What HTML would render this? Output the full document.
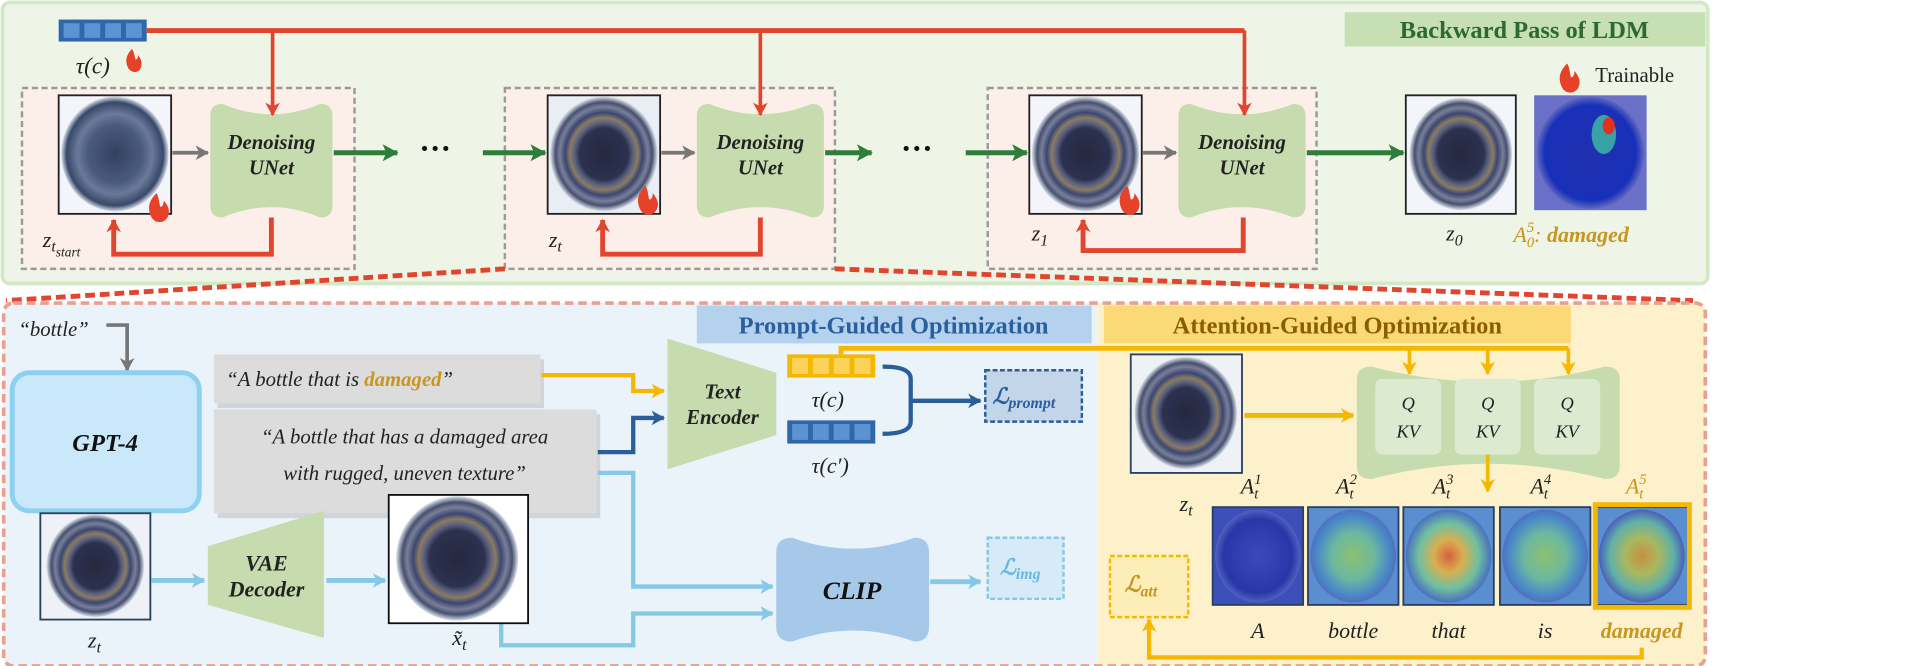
<!DOCTYPE html>
<html><head><meta charset="utf-8"><style>
html,body{margin:0;padding:0;background:#fff;}
svg{display:block;}
text{font-family:"Liberation Serif",serif;}
.bi{font-weight:bold;font-style:italic;}
.it{font-style:italic;}
</style></head><body>
<svg width="1907" height="666" viewBox="0 0 1560 545" preserveAspectRatio="none" xmlns="http://www.w3.org/2000/svg">
<defs>
<radialGradient id="bot" cx="50%" cy="50%" r="50%">
<stop offset="0" stop-color="#25283d"/><stop offset="0.45" stop-color="#2c3150"/>
<stop offset="0.55" stop-color="#5c6280"/><stop offset="0.63" stop-color="#8b7b62"/>
<stop offset="0.72" stop-color="#3a4672"/><stop offset="0.82" stop-color="#7a7f98"/>
<stop offset="0.9" stop-color="#45506f"/><stop offset="1" stop-color="#dfe4ec"/></radialGradient>
<radialGradient id="noisy" cx="50%" cy="50%" r="50%">
<stop offset="0" stop-color="#34405e"/><stop offset="0.5" stop-color="#4a5a7e"/>
<stop offset="0.7" stop-color="#6b7a9a"/><stop offset="0.9" stop-color="#384868"/><stop offset="1" stop-color="#d8dfea"/></radialGradient>
<radialGradient id="h1" cx="50%" cy="50%" r="50%"><stop offset="0" stop-color="#3a4bb8"/><stop offset="0.8" stop-color="#2a36a8"/><stop offset="1" stop-color="#4f62c0"/></radialGradient>
<radialGradient id="h2" cx="50%" cy="50%" r="50%"><stop offset="0" stop-color="#8cc070"/><stop offset="0.5" stop-color="#6cb8a0"/><stop offset="0.85" stop-color="#4a88c8"/><stop offset="1" stop-color="#5070c0"/></radialGradient>
<radialGradient id="h3" cx="50%" cy="50%" r="50%"><stop offset="0" stop-color="#d86040"/><stop offset="0.35" stop-color="#d8b050"/><stop offset="0.7" stop-color="#70c0a0"/><stop offset="1" stop-color="#4a70c0"/></radialGradient>
<radialGradient id="h5" cx="50%" cy="50%" r="50%"><stop offset="0" stop-color="#c89040"/><stop offset="0.4" stop-color="#a8b860"/><stop offset="0.75" stop-color="#60b0a8"/><stop offset="1" stop-color="#4a60b8"/></radialGradient>
<radialGradient id="h0" cx="50%" cy="50%" r="50%"><stop offset="0" stop-color="#2030b0"/><stop offset="0.85" stop-color="#1830b8"/><stop offset="1" stop-color="#6068c0"/></radialGradient>
<marker id="mr" markerWidth="12" markerHeight="12" refX="10" refY="6" orient="auto" markerUnits="userSpaceOnUse"><path d="M0,0 L11,6 L0,12 L3,6Z" fill="#e2452e"/></marker>
<marker id="mg" markerWidth="14" markerHeight="14" refX="12" refY="7" orient="auto" markerUnits="userSpaceOnUse"><path d="M0,0 L13,7 L0,14 L3,7Z" fill="#2e7d3a"/></marker>
<marker id="mgr" markerWidth="12" markerHeight="12" refX="10" refY="6" orient="auto" markerUnits="userSpaceOnUse"><path d="M0,0 L11,6 L0,12 L3,6Z" fill="#777"/></marker>
<marker id="my" markerWidth="12" markerHeight="12" refX="10" refY="6" orient="auto" markerUnits="userSpaceOnUse"><path d="M0,0 L11,6 L0,12 L3,6Z" fill="#f5b800"/></marker>
<marker id="mb" markerWidth="12" markerHeight="12" refX="10" refY="6" orient="auto" markerUnits="userSpaceOnUse"><path d="M0,0 L11,6 L0,12 L3,6Z" fill="#2b5e98"/></marker>
<marker id="ml" markerWidth="12" markerHeight="12" refX="10" refY="6" orient="auto" markerUnits="userSpaceOnUse"><path d="M0,0 L11,6 L0,12 L3,6Z" fill="#85c8e8"/></marker>
</defs>

<!-- TOP PANEL -->
<rect x="2" y="2" width="1395" height="230" rx="6" fill="#eef5e7" stroke="#d3e8c4" stroke-width="3"/>
<rect x="1100" y="10" width="295" height="28" fill="#c6dfb3"/>
<text x="1247" y="31" text-anchor="middle" font-size="20" font-weight="bold" fill="#2d6a2d">Backward Pass of LDM</text>
<path d="M1282,52 c-6,6 -8,12 -4,20 c3,5 10,5 13,0 c3,-6 0,-10 -3,-14 c0,4 -2,6 -3,5 c-1,-4 -1,-8 -3,-11z" fill="#e8412a"/>
<text x="1305" y="67" font-size="17" fill="#222">Trainable</text>

<!-- tau(c) -->
<rect x="48" y="16" width="72" height="18" fill="#2e67aa"/>
<g fill="#5b93d3"><rect x="52" y="19" width="13" height="12"/><rect x="69" y="19" width="13" height="12"/><rect x="86" y="19" width="13" height="12"/><rect x="103" y="19" width="13" height="12"/></g>
<text x="62" y="60" font-size="19" class="it" fill="#222">τ(c)</text>
<path d="M108,40 c-5,5 -6,10 -3,16 c3,4 8,4 10,0 c2,-5 0,-8 -2,-11 c0,3 -2,4 -2,4 c-1,-3 -1,-6 -3,-9z" fill="#e8412a"/>

<!-- dashed boxes -->
<g fill="#fcefe9" stroke="#9a9a9a" stroke-width="2" stroke-dasharray="5,3">
<rect x="18" y="72" width="272" height="148"/><rect x="413" y="72" width="270" height="148"/><rect x="808" y="72" width="269" height="148"/></g>

<!-- images -->
<g stroke="#222" stroke-width="1.5">
<rect x="48" y="78" width="92" height="97" fill="#f3f5fa"/>
<rect x="448" y="78" width="92" height="97" fill="#e8eef3"/>
<rect x="842" y="78" width="92" height="97" fill="#f3f5fa"/>
<rect x="1150" y="78" width="90" height="97" fill="#f3f5fa"/></g>
<ellipse cx="94" cy="126" rx="44" ry="47" fill="url(#noisy)"/>
<ellipse cx="494" cy="126" rx="44" ry="47" fill="url(#bot)"/>
<ellipse cx="888" cy="126" rx="44" ry="47" fill="url(#bot)"/>
<ellipse cx="1195" cy="126" rx="42" ry="46" fill="url(#bot)"/>
<rect x="1255" y="78" width="92" height="94" fill="#6a70c8"/>
<ellipse cx="1301" cy="125" rx="44" ry="46" fill="url(#h0)"/>
<ellipse cx="1312" cy="110" rx="10" ry="16" fill="#40c0a0" opacity="0.8"/>
<ellipse cx="1316" cy="103" rx="5" ry="7" fill="#e03020"/>
<g fill="#e8412a">
<path d="M128,158 c-6,6 -8,12 -4,20 c3,5 10,5 13,0 c3,-6 0,-10 -3,-14 c0,4 -2,6 -3,5 c-1,-4 -1,-8 -3,-11z"/>
<path d="M528,152 c-6,6 -8,12 -4,20 c3,5 10,5 13,0 c3,-6 0,-10 -3,-14 c0,4 -2,6 -3,5 c-1,-4 -1,-8 -3,-11z"/>
<path d="M922,152 c-6,6 -8,12 -4,20 c3,5 10,5 13,0 c3,-6 0,-10 -3,-14 c0,4 -2,6 -3,5 c-1,-4 -1,-8 -3,-11z"/></g>

<!-- UNets -->
<g fill="#c6dcae">
<path d="M172,95 Q172,85 182,85 Q222,102 262,85 Q272,85 272,95 L272,168 Q272,178 262,178 Q222,161 182,178 Q172,178 172,168Z"/>
<path d="M570,95 Q570,85 580,85 Q622,102 664,85 Q674,85 674,95 L674,168 Q674,178 664,178 Q622,161 580,178 Q570,178 570,168Z"/>
<path d="M964,95 Q964,85 974,85 Q1016,102 1058,85 Q1068,85 1068,95 L1068,168 Q1068,178 1058,178 Q1016,161 974,178 Q964,178 964,168Z"/></g>
<g font-size="17" class="bi" fill="#222" text-anchor="middle">
<text x="222" y="122">Denoising</text><text x="222" y="143">UNet</text>
<text x="622" y="122">Denoising</text><text x="622" y="143">UNet</text>
<text x="1016" y="122">Denoising</text><text x="1016" y="143">UNet</text></g>

<!-- red top line -->
<path d="M120,25 H1018" stroke="#e2452e" stroke-width="4" fill="none"/>
<g stroke="#e2452e" stroke-width="3" fill="none" marker-end="url(#mr)">
<path d="M223,25 V94"/><path d="M622,25 V94"/><path d="M1018,25 V94"/></g>

<!-- gray arrows -->
<g stroke="#777" stroke-width="3" marker-end="url(#mgr)">
<path d="M141,125 H170"/><path d="M541,125 H568"/><path d="M935,125 H962"/></g>
<!-- green arrows -->
<g stroke="#2e7d3a" stroke-width="4" marker-end="url(#mg)">
<path d="M273,125 H325"/><path d="M395,125 H446"/><path d="M675,125 H713"/><path d="M790,125 H840"/><path d="M1069,125 H1148"/></g>
<g font-size="26" font-weight="bold" fill="#111"><text x="343" y="130">···</text><text x="737" y="130">···</text></g>
<!-- red loops -->
<g stroke="#e2452e" stroke-width="4" fill="none">
<path d="M222,178 V208 H93 V180" marker-end="url(#mr)"/>
<path d="M622,178 V208 H493 V180" marker-end="url(#mr)"/>
<path d="M1017,178 V205 H886 V180" marker-end="url(#mr)"/></g>
<g font-size="18" class="it" fill="#222">
<text x="35" y="202">z<tspan font-size="13" dy="4">t</tspan><tspan font-size="11" dy="4">start</tspan></text>
<text x="449" y="202">z<tspan font-size="13" dy="4">t</tspan></text>
<text x="844" y="197">z<tspan font-size="13" dy="4">1</tspan></text>
<text x="1183" y="197">z<tspan font-size="13" dy="4">0</tspan></text></g>
<text x="1238" y="198" font-size="18" class="it" fill="#c8961e">A<tspan font-size="12" dy="-8">5</tspan><tspan font-size="12" dx="-6" dy="12">0</tspan><tspan dy="-4">: </tspan><tspan font-weight="bold">damaged</tspan></text>

<!-- red dashed connectors -->
<g stroke="#e2452e" stroke-width="4" stroke-dasharray="8,4"><path d="M413,220 L5,246"/><path d="M683,220 L1385,246"/></g>

<!-- BOTTOM PANEL -->
<path d="M3,254 Q3,248 10,248 H898 V545 H10 Q3,545 3,538Z" fill="#eaf2fa"/>
<path d="M898,248 H1388 Q1395,248 1395,255 V538 Q1395,545 1388,545 H898Z" fill="#fdf1cc"/>
<rect x="3" y="248" width="1392" height="297" rx="8" fill="none" stroke="#eba08f" stroke-width="3" stroke-dasharray="7,4"/>
<rect x="570" y="250" width="323" height="31" fill="#b4d2ee"/>
<text x="731" y="273" text-anchor="middle" font-size="20" font-weight="bold" fill="#2a5f9e">Prompt-Guided  Optimization</text>
<rect x="903" y="250" width="382" height="31" fill="#fcd977"/>
<text x="1094" y="273" text-anchor="middle" font-size="20" font-weight="bold" fill="#8a5e00">Attention-Guided Optimization</text>

<text x="15" y="275" font-size="17" class="it" fill="#222">“bottle”</text>
<path d="M87,266 H104 V303" stroke="#777" stroke-width="3" fill="none" marker-end="url(#mgr)"/>
<rect x="10" y="305" width="153" height="113" rx="14" fill="#c9e8f9" stroke="#8dd0f0" stroke-width="4"/>
<text x="86" y="369" text-anchor="middle" font-size="20" class="bi" fill="#111">GPT-4</text>

<rect x="178" y="294" width="267" height="40" fill="#b8b8b8" opacity="0.5"/>
<rect x="175" y="290" width="267" height="40" fill="#dcdcdc"/>
<text x="185" y="316" font-size="17" class="it" fill="#222">“A bottle that is <tspan font-weight="bold" fill="#c8961e">damaged</tspan>”</text>
<rect x="178" y="339" width="313" height="85" fill="#b8b8b8" opacity="0.5"/>
<rect x="175" y="335" width="313" height="85" fill="#dcdcdc"/>
<text x="331" y="363" text-anchor="middle" font-size="17" class="it" fill="#222">“A bottle that has a damaged area</text>
<text x="331" y="393" text-anchor="middle" font-size="17" class="it" fill="#222">with rugged, uneven texture”</text>

<path d="M443,307 H518 V320 H543" stroke="#f5b800" stroke-width="3.5" fill="none" marker-end="url(#my)"/>
<path d="M489,370 H518 V342 H543" stroke="#2b5e98" stroke-width="3.5" fill="none" marker-end="url(#mb)"/>
<path d="M489,387 H518 V480 H632" stroke="#85c8e8" stroke-width="3.5" fill="none" marker-end="url(#ml)"/>
<path d="M410,510 V528 H518 V502 H632" stroke="#85c8e8" stroke-width="3.5" fill="none" marker-end="url(#ml)"/>

<path d="M546,277 L635,305 L635,356 L546,384Z" fill="#c6dcae"/>
<text x="591" y="326" text-anchor="middle" font-size="17" class="bi" fill="#222">Text</text>
<text x="591" y="347" text-anchor="middle" font-size="17" class="bi" fill="#222">Encoder</text>

<rect x="644" y="290" width="72" height="19" fill="#f5b800"/>
<g fill="#fbd35a"><rect x="648" y="293" width="13" height="13"/><rect x="665" y="293" width="13" height="13"/><rect x="682" y="293" width="13" height="13"/><rect x="699" y="293" width="13" height="13"/></g>
<rect x="644" y="344" width="72" height="19" fill="#2e67aa"/>
<g fill="#5b93d3"><rect x="648" y="347" width="13" height="13"/><rect x="665" y="347" width="13" height="13"/><rect x="682" y="347" width="13" height="13"/><rect x="699" y="347" width="13" height="13"/></g>
<text x="664" y="333" font-size="18" class="it" fill="#222">τ(c)</text>
<text x="664" y="387" font-size="18" class="it" fill="#222">τ(c′)</text>
<path d="M722,300 Q745,300 745,310 V345 Q745,355 722,355" stroke="#2b5e98" stroke-width="3.5" fill="none"/>
<path d="M745,328 H802" stroke="#2b5e98" stroke-width="3.5" fill="none" marker-end="url(#mb)"/>
<rect x="806" y="303" width="79" height="42" fill="#c3d5e9" stroke="#2b5e98" stroke-width="2" stroke-dasharray="4,2"/>
<text x="812" y="330" font-size="18" class="bi" fill="#2a5f9e">ℒ<tspan font-size="13" dy="4">prompt</tspan></text>

<!-- yellow bus -->
<path d="M688,290 V285 H1283" stroke="#f5b800" stroke-width="4" fill="none"/>

<!-- CLIP -->
<path d="M635,452 Q635,440 648,440 Q698,458 748,440 Q760,440 760,452 L760,513 Q760,525 748,525 Q698,507 648,525 Q635,525 635,513Z" fill="#a6c9e9"/>
<text x="697" y="490" text-anchor="middle" font-size="21" class="bi" fill="#111">CLIP</text>
<path d="M761,476 H802" stroke="#85c8e8" stroke-width="4" fill="none" marker-end="url(#ml)"/>
<rect x="808" y="440" width="62" height="50" fill="#d6ebf7" stroke="#85c8e8" stroke-width="2" stroke-dasharray="4,2"/>
<text x="818" y="470" font-size="18" class="bi" fill="#6ab8e0">ℒ<tspan font-size="13" dy="4">img</tspan></text>

<!-- VAE -->
<rect x="33" y="420" width="90" height="87" fill="#eef2f6" stroke="#2a4060" stroke-width="1.5"/>
<ellipse cx="78" cy="463" rx="40" ry="42" fill="url(#bot)"/>
<text x="72" y="530" font-size="18" class="it" fill="#222">z<tspan font-size="13" dy="4">t</tspan></text>
<path d="M124,475 H167" stroke="#85c8e8" stroke-width="4" fill="none" marker-end="url(#ml)"/>
<path d="M170,447 L265,418 L265,522 L170,495Z" fill="#c6dcae"/>
<text x="218" y="467" text-anchor="middle" font-size="18" class="bi" fill="#222">VAE</text>
<text x="218" y="488" text-anchor="middle" font-size="18" class="bi" fill="#222">Decoder</text>
<path d="M267,475 H315" stroke="#85c8e8" stroke-width="4" fill="none" marker-end="url(#ml)"/>
<rect x="318" y="405" width="114" height="105" fill="#fff" stroke="#111" stroke-width="1.5"/>
<ellipse cx="374" cy="457" rx="50" ry="51" fill="url(#bot)"/>
<text x="370" y="528" font-size="18" class="it" fill="#222">x̃<tspan font-size="13" dy="4">t</tspan></text>

<!-- attention side -->
<rect x="925" y="290" width="91" height="97" fill="#eef2f6" stroke="#2a4060" stroke-width="1.5"/>
<ellipse cx="970" cy="338" rx="42" ry="46" fill="url(#bot)"/>
<text x="965" y="418" font-size="18" class="it" fill="#222">z<tspan font-size="13" dy="4">t</tspan></text>
<path d="M1018,340 H1107" stroke="#f5b800" stroke-width="4" fill="none" marker-end="url(#my)"/>
<path d="M1110,310 Q1110,300 1122,300 Q1217,325 1313,300 Q1325,300 1325,310 L1325,382 Q1325,392 1313,392 Q1217,367 1122,392 Q1110,392 1110,382Z" fill="#c6dcae"/>
<g fill="#dcebd0"><rect x="1125" y="310" width="54" height="62" rx="6"/><rect x="1190" y="310" width="54" height="62" rx="6"/><rect x="1255" y="310" width="54" height="62" rx="6"/></g>
<g stroke="#f5b800" stroke-width="3" fill="none" marker-end="url(#my)">
<path d="M1153,285 V306"/><path d="M1217,285 V306"/><path d="M1283,285 V306"/></g>
<g font-size="15" class="it" fill="#222" text-anchor="middle">
<text x="1152" y="335">Q</text><text x="1152" y="358">KV</text>
<text x="1217" y="335">Q</text><text x="1217" y="358">KV</text>
<text x="1282" y="335">Q</text><text x="1282" y="358">KV</text></g>
<path d="M1217,372 V402" stroke="#f5b800" stroke-width="3" fill="none" marker-end="url(#my)"/>
<g font-size="18" class="it" fill="#222">
<text x="1015" y="404">A<tspan font-size="12" dy="-8">1</tspan><tspan font-size="12" dx="-6" dy="12">t</tspan></text>
<text x="1093" y="404">A<tspan font-size="12" dy="-8">2</tspan><tspan font-size="12" dx="-6" dy="12">t</tspan></text>
<text x="1172" y="404">A<tspan font-size="12" dy="-8">3</tspan><tspan font-size="12" dx="-6" dy="12">t</tspan></text>
<text x="1252" y="404">A<tspan font-size="12" dy="-8">4</tspan><tspan font-size="12" dx="-6" dy="12">t</tspan></text>
<text x="1330" y="404" fill="#c8961e">A<tspan font-size="12" dy="-8">5</tspan><tspan font-size="12" dx="-6" dy="12">t</tspan></text></g>
<g stroke="#2a4060" stroke-width="1.5">
<rect x="992" y="415" width="74" height="80" fill="#3d4fb8"/>
<rect x="1070" y="415" width="74" height="80" fill="#5a8ed0"/>
<rect x="1148" y="415" width="74" height="80" fill="#5a8ed0"/>
<rect x="1227" y="415" width="74" height="80" fill="#5a8ed0"/>
<rect x="1305" y="415" width="76" height="80" fill="#5a8ed0"/></g>
<ellipse cx="1029" cy="455" rx="35" ry="38" fill="url(#h1)"/>
<ellipse cx="1107" cy="455" rx="35" ry="38" fill="url(#h2)"/>
<ellipse cx="1185" cy="455" rx="35" ry="38" fill="url(#h3)"/>
<ellipse cx="1264" cy="455" rx="35" ry="38" fill="url(#h2)"/>
<ellipse cx="1343" cy="455" rx="35" ry="38" fill="url(#h5)"/>
<rect x="1305" y="413" width="77" height="84" fill="none" stroke="#f5b800" stroke-width="4"/>
<g font-size="18" class="it" fill="#222" text-anchor="middle">
<text x="1029" y="522">A</text><text x="1107" y="522">bottle</text><text x="1185" y="522">that</text><text x="1264" y="522">is</text>
<text x="1343" y="522" font-weight="bold" fill="#c8961e">damaged</text></g>
<rect x="908" y="455" width="64" height="50" fill="#fdeeb8" stroke="#f5b800" stroke-width="2" stroke-dasharray="4,2"/>
<text x="920" y="484" font-size="18" class="bi" fill="#c8961e">ℒ<tspan font-size="13" dy="4">att</tspan></text>
<path d="M1343,530 V538 H940 V507" stroke="#f5b800" stroke-width="3.5" fill="none" marker-end="url(#my)"/>
</svg>
</body></html>
